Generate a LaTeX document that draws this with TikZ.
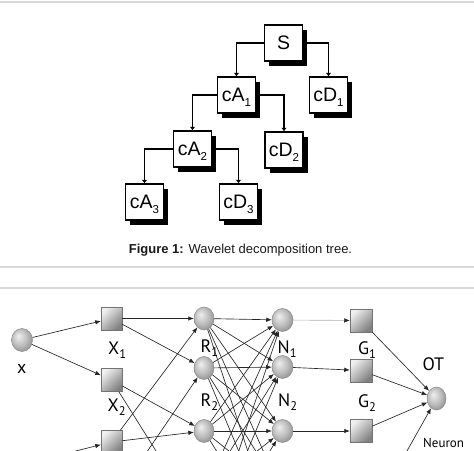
\documentclass[tikz,border=0pt]{standalone}
\usepackage{fontspec}
\setmainfont{Liberation Sans}
\newfontfamily\netfont{PT Sans}
\usetikzlibrary{arrows.meta,shadows,shapes.geometric}
\pgfdeclareradialshading{nball}{\pgfpoint{-9bp}{9bp}}{color(0bp)=(black!6); color(18bp)=(black!26); color(32bp)=(black!45); color(50bp)=(black!55)}
\newcommand\tsub[1]{\raisebox{-4.3pt}{\fontsize{11.5}{11.5}\selectfont #1}}
\newcommand\nsub[1]{\raisebox{-4pt}{\fontsize{12.5}{12.5}\selectfont #1}}
\tikzset{
 tbox/.style={draw, line width=1.3pt, fill=white, minimum width=38pt, minimum height=36pt, inner sep=0pt, text height=13.5pt, text depth=0pt, font=\fontsize{19.5}{21}\selectfont, general shadow={fill=black, shadow xshift=4.5pt, shadow yshift=-4.5pt}},
 tarr/.style={line width=1.4pt, -{Latex[length=3.5pt,width=5.5pt]}},
 rulel/.style={draw=black!15, line width=1.4pt},
 nsq/.style={draw=black!55, line width=0.5pt, minimum width=21pt, minimum height=23pt, inner sep=0pt, shading=axis, top color=black!6, bottom color=black!50, shading angle=45},
 ncirc/.style={ellipse, draw=black!45, line width=0.5pt, minimum width=21pt, minimum height=23pt, inner sep=0pt, shade, shading=nball},
 nlab/.style={font=\netfont\fontsize{18}{20}\selectfont, inner sep=0pt, anchor=base west},
 narr/.style={line width=0.65pt, draw=black!85, -{Latex[length=5.5pt,width=4.5pt]}},
 nline/.style={line width=0.65pt, draw=black!85},
}
\begin{document}
\begin{tikzpicture}[x=1pt,y=-1pt]
\useasboundingbox (0,0) rectangle (474,450);
\clip (0,0) rectangle (474,450);
\fill[white] (0,0) rectangle (474,450);
% rules
\draw[rulel] (0,2) -- (474,2);
\draw[rulel] (0,267) -- (474,267);
\draw[rulel, line width=1.1pt] (0,288) -- (474,288);
% tree
\node[tbox] (S) at (283.5,43) {S};
\node[tbox] (cA1) at (236.5,95) {cA\tsub{1}};
\node[tbox] (cD1) at (328.5,95) {cD\tsub{1}};
\node[tbox] (cA2) at (192.5,149) {cA\tsub{2}};
\node[tbox] (cD2) at (284,150) {cD\tsub{2}};
\node[tbox] (cA3) at (144.5,202) {cA\tsub{3}};
\node[tbox] (cD3) at (238.5,202) {cD\tsub{3}};
\draw[tarr] (S.west) -| (cA1.north);
\draw[tarr] (S.east) -| (cD1.north);
\draw[tarr] (cA1.west) -| (cA2.north);
\draw[tarr] (cA1.east) -| (cD2.north);
\draw[tarr] (cA2.west) -| (cA3.north);
\draw[tarr] (cA2.east) -| (cD3.north);
\node[font=\fontsize{13}{15}\selectfont, text=black!90, anchor=base, inner sep=0pt] (cap) at (240.5,253) {\textbf{Figure 1:} Wavelet decomposition tree.};
% network nodes
\node[ncirc] (X) at (22,340) {};
\node[nsq] (X1) at (111.5,318.5) {};
\node[nsq] (X2) at (111.5,380) {};
\node[nsq] (X3) at (111.5,442) {};
\node[ncirc, minimum width=20pt] (R1) at (204,318.5) {};
\node[ncirc, minimum width=20pt] (R2) at (204,368) {};
\node[ncirc, minimum width=20pt] (R3) at (204,431) {};
\node[ncirc] (N1) at (282.5,320) {};
\node[ncirc] (N2) at (282.5,367) {};
\node[ncirc] (N3) at (282.5,431) {};
\node[nsq, minimum width=22pt] (G1) at (361,320.5) {};
\node[nsq, minimum width=22pt] (G2) at (361,370.5) {};
\node[nsq, minimum width=22pt] (G3) at (361,431) {};
\node[ncirc, minimum width=19pt] (OT) at (436.5,398.5) {};
\coordinate (R4) at (204,493);
\coordinate (R5) at (204,555);
\coordinate (N4) at (282.5,494);
\coordinate (N5) at (282.5,556);
\coordinate (X4) at (111.5,504);
\coordinate (x2d) at (200,521);
\coordinate (x3s) at (28,463);
\coordinate (G4) at (385,490);
% labels
\node[nlab, anchor=base] (lx) at (21.7,373) {x};
\node[nlab] (lX1) at (108,354) {X\nsub{1}};
\node[nlab] (lX2) at (107.5,411) {X\nsub{2}};
\node[nlab] (lR1) at (200.5,352) {R\nsub{1}};
\node[nlab] (lR2) at (200.5,406) {R\nsub{2}};
\node[nlab] (lN1) at (277.5,353) {N\nsub{1}};
\node[nlab] (lN2) at (278,406) {N\nsub{2}};
\node[nlab] (lG1) at (358,354) {G\nsub{1}};
\node[nlab] (lG2) at (358,407) {G\nsub{2}};
\node[nlab] (lOT) at (422.5,370.5) {OT};
\node[nlab, font=\netfont\fontsize{13}{15}\selectfont] (lNeu) at (423,447.5) {Neuron};
% network edges
\draw[narr] (X) -- (X1);
\draw[narr] (X) -- (X2);
\draw[narr] (x3s) -- (X3);
\draw[narr] (X1) -- (R1);
\draw[narr] (X1) -- (R2);
\draw[narr] (X2) -- (R3);
\draw[nline] (X2) -- (x2d);
\draw[narr] (X3) -- (R1);
\draw[narr] (X3) -- (R3);
\draw[narr] (X4) -- (R2);
\foreach \a in {R1,R2,R3,R4,R5}{\foreach \b in {N1,N2,N3,N4,N5}{\draw[narr] (\a) -- (\b);}}
\draw[narr, draw=black!30, -{Latex[length=5.5pt,width=4.5pt,color=black!85]}] (N1) -- (G1);
\draw[narr] (N2) -- (G2);
\draw[narr] (N3) -- (G3);
\draw[narr] (G1) -- (OT);
\draw[narr] (G2) -- (OT);
\draw[narr] (G3) -- (OT);
\draw[narr] (G4) -- (OT);
\end{tikzpicture}
\end{document}
